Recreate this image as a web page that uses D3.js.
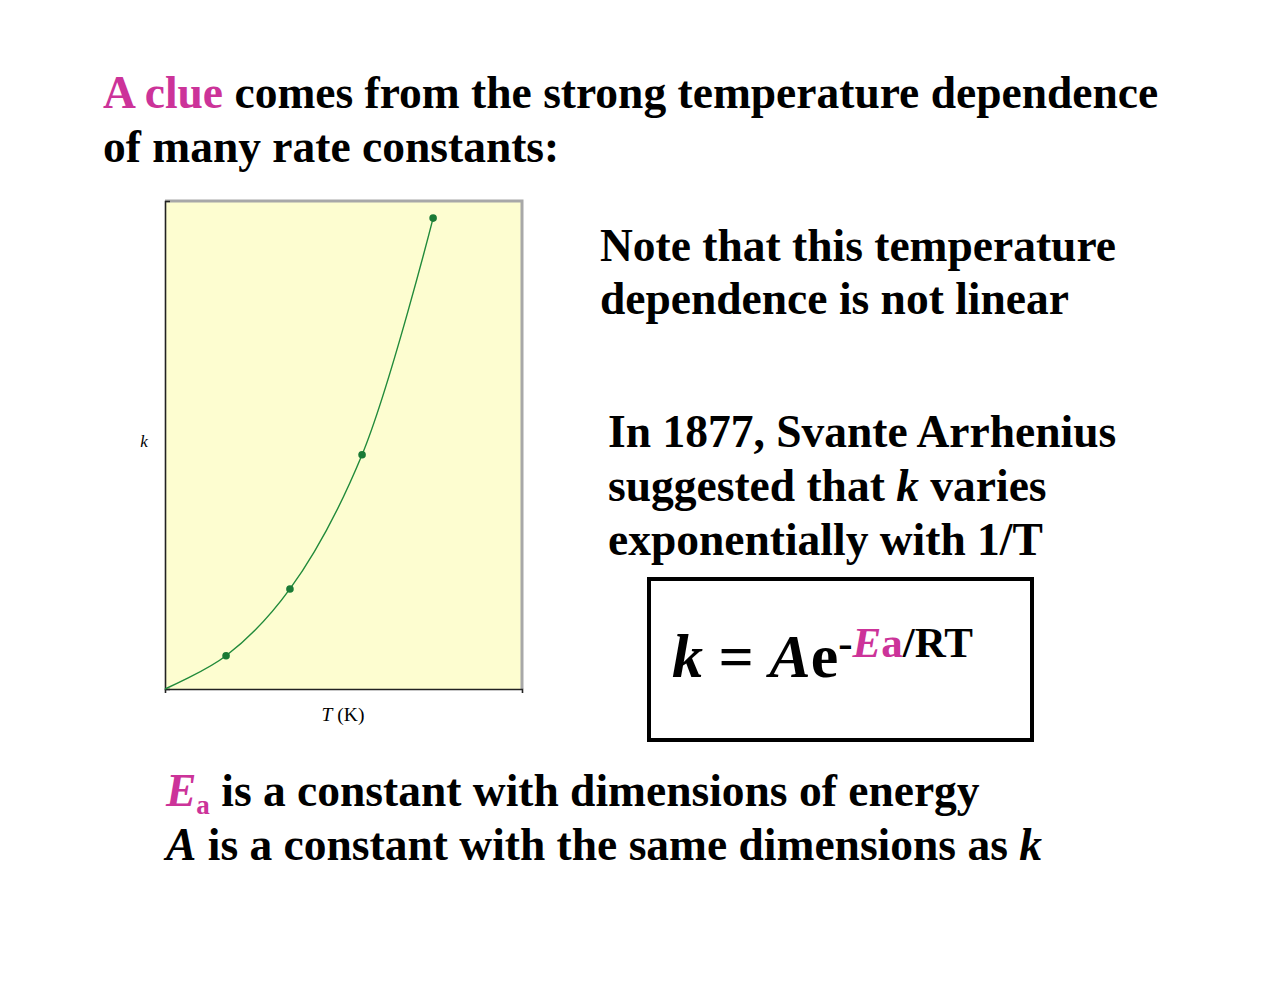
<!DOCTYPE html>
<html><head><meta charset="utf-8">
<script src="https://cdn.jsdelivr.net/npm/d3@7"></script>
<style>
html,body{margin:0;padding:0;background:#fff;}
svg text{font-family:"Liberation Serif","Times New Roman",serif;font-weight:bold;}
</style></head>
<body><svg id="c" width="1280" height="989"></svg>
<script>
// Data: temperature (arbitrary units) vs rate constant k (arbitrary units)
const curveT = [0, 17.1, 35.0, 55.2, 75.1];
const curveK = [0, 6.8, 20.5, 48.0, 96.5];
const pointT = [17.1, 35.0, 55.2, 75.1];
const pointK = [6.8, 20.5, 48.0, 96.5];
const xDomain = [0, 100];
const yDomain = [0, 100];
const xLabel = "T (K)";
const yLabel = "k";

(function(){
const MAG = "#cc3399";
const FS = "45.5px";
const svg = d3.select("#c");
const pL = 165, pR = 522, pT = 201, pB = 689;
const x = d3.scaleLinear().domain(xDomain).range([pL, pR]);
const y = d3.scaleLinear().domain(yDomain).range([pB, pT]);

svg.append("rect").attr("x", pL).attr("y", pT).attr("width", pR-pL).attr("height", pB-pT)
  .attr("fill", "#fdfdd0");
svg.append("path").attr("d", `M${pL},${pT}H${pR}V${pB}`).attr("fill","none")
  .attr("stroke","#a8a8a8").attr("stroke-width",3);
const gx = svg.append("g").attr("transform",`translate(0,${pB})`)
  .call(d3.axisBottom(x).tickValues([]).tickSizeOuter(4));
const gy = svg.append("g").attr("transform",`translate(${pL},0)`)
  .call(d3.axisLeft(y).tickValues([]).tickSizeOuter(-5));
[gx,gy].forEach(g=>g.select(".domain").attr("stroke","#222").attr("stroke-width",1.6));

const line = d3.line().x((d,i)=>x(curveT[i])).y((d,i)=>y(curveK[i])).curve(d3.curveCatmullRom.alpha(0.5));
svg.append("path").datum(curveT).attr("d", line).attr("fill","none").attr("stroke","#218a3a").attr("stroke-width",1.4);
svg.selectAll("circle.pt").data(pointT).join("circle").attr("class","pt")
  .attr("cx",(d)=>x(d)).attr("cy",(d,i)=>y(pointK[i])).attr("r",3.8).attr("fill","#1a7a35");

svg.append("text").attr("x",144).attr("y",447).attr("text-anchor","middle")
  .style("font-weight","normal").style("font-style","italic").style("font-size","17px").text(yLabel);
const xl = svg.append("text").attr("x",343).attr("y",721).attr("text-anchor","middle")
  .style("font-weight","normal").style("font-size","19.5px");
xl.append("tspan").style("font-style","italic").text(xLabel.split(" ")[0]);
xl.append("tspan").text(" " + xLabel.split(" ")[1]);

const t1 = svg.append("text").attr("x",103).attr("y",108).style("font-size",FS);
t1.append("tspan").attr("fill",MAG).text("A clue");
t1.append("tspan").text(" comes from the strong temperature dependence");
svg.append("text").attr("x",103).attr("y",162).style("font-size",FS).text("of many rate constants:");

svg.append("text").attr("x",600).attr("y",261).style("font-size",FS).text("Note that this temperature");
svg.append("text").attr("x",600).attr("y",314).style("font-size",FS).text("dependence is not linear");

svg.append("text").attr("x",608).attr("y",447).style("font-size",FS).text("In 1877, Svante Arrhenius");
const s2 = svg.append("text").attr("x",608).attr("y",501).style("font-size",FS);
s2.append("tspan").text("suggested that ");
s2.append("tspan").style("font-style","italic").text("k");
s2.append("tspan").text(" varies");
svg.append("text").attr("x",608).attr("y",555).style("font-size",FS).text("exponentially with 1/T");

svg.append("rect").attr("x",649).attr("y",579).attr("width",383).attr("height",161)
  .attr("fill","none").attr("stroke","#000").attr("stroke-width",4);
const f = svg.append("text").attr("x",672).attr("y",677).style("font-size","62px");
f.append("tspan").style("font-style","italic").text("k");
f.append("tspan").text(" = ");
f.append("tspan").style("font-style","italic").text("A");
f.append("tspan").text("e");
const fw = f.node().getComputedTextLength();
const fs = svg.append("text").attr("x",672 + fw).attr("y",657).style("font-size","43px");
fs.append("tspan").text("-");
fs.append("tspan").attr("fill",MAG).style("font-style","italic").text("E");
fs.append("tspan").attr("fill",MAG).text("a");
fs.append("tspan").text("/RT");

const b1 = svg.append("text").attr("x",166).attr("y",806).style("font-size",FS);
b1.append("tspan").attr("fill",MAG).style("font-style","italic").text("E");
b1.append("tspan").attr("fill",MAG).attr("dy",8).style("font-size","27px").text("a");
b1.append("tspan").attr("dy",-8).text(" is a constant with dimensions of energy");
const b2 = svg.append("text").attr("x",166).attr("y",860).style("font-size",FS);
b2.append("tspan").style("font-style","italic").text("A");
b2.append("tspan").text(" is a constant with the same dimensions as ");
b2.append("tspan").style("font-style","italic").text("k");
})();
</script></body></html>
